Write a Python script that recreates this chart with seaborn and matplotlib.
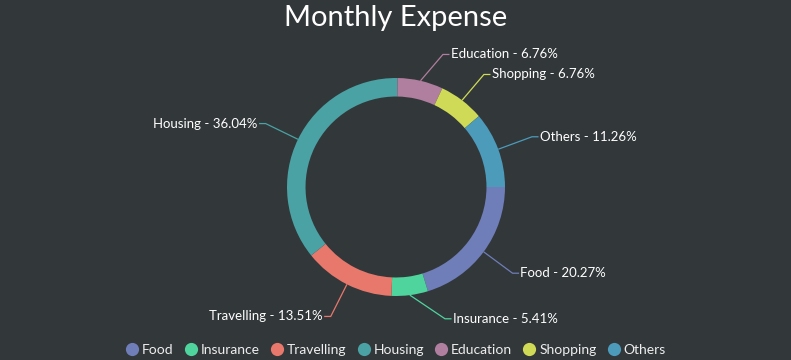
import matplotlib
matplotlib.use("Agg")
import matplotlib.pyplot as plt
import seaborn as sns
from matplotlib.lines import Line2D
import numpy as np

categories = ["Food", "Insurance", "Travelling", "Housing", "Education", "Shopping", "Others"]
values = [45, 12, 30, 80, 15, 15, 25]
title = "Monthly Expense"

colors = ["#6F7DB8", "#4FD49E", "#E9786C", "#4AA2A4", "#B07E9E", "#CFDB57", "#4C9BBA"]
bg = "#32373A"

sns.set_theme(style="dark")
plt.rcParams["font.family"] = ["Lato", "DejaVu Sans"]

W, H = 791, 360
cx, cy, R = 396, 187, 109
fig = plt.figure(figsize=(W / 100, H / 100), dpi=100, facecolor=bg)
ax = fig.add_axes([0, 0, 1, 1])
ax.set_facecolor(bg)

pal = sns.color_palette(colors)
wedges, _ = ax.pie(values, colors=pal, radius=1.0, startangle=0, counterclock=False,
                   wedgeprops=dict(width=0.17, linewidth=0))

ax.set_xlim(-cx / R, (W - cx) / R)
ax.set_ylim(-(H - cy) / R, cy / R)
ax.set_aspect("equal")
ax.axis("off")

total = sum(values)
# label layout: elbow (angle deg, radius) overrides to avoid collisions
elbow_adj = {"Insurance": (-69.6, 1.29), "Education": (70.5, 1.29), "Shopping": (52, 1.31)}
elbow_r = 1.33
for w, cat, v, col in zip(wedges, categories, values, pal):
    mid = np.deg2rad((w.theta1 + w.theta2) / 2)
    x0, y0 = np.cos(mid), np.sin(mid)
    a_deg, r = elbow_adj.get(cat, (np.rad2deg(mid), elbow_r))
    ea = np.deg2rad(a_deg)
    ex, ey = r * np.cos(ea), r * np.sin(ea)
    side = 1 if ex >= 0 else -1
    hx = ex + side * 0.06
    ax.plot([x0, ex, hx], [y0, ey, ey], color=col, lw=0.9, solid_capstyle="butt")
    pct = 100 * v / total
    ax.text(hx + side * 0.012, ey, f"{cat} - {pct:.2f}%", color="white", fontsize=9.5,
            ha="left" if side > 0 else "right", va="center")

fig.text(0.5, 1 - 18 / H, title, color="white", fontsize=21, ha="center", va="center")

handles = [Line2D([0], [0], marker="o", linestyle="", markersize=9.5, markerfacecolor=c,
                  markeredgewidth=0) for c in pal]
leg = fig.legend(handles, categories, loc="center", bbox_to_anchor=(0.5, 1 - 350 / H),
                 ncol=7, frameon=False, fontsize=10, handletextpad=0.2,
                 columnspacing=0.75, handlelength=1.0)
for t in leg.get_texts():
    t.set_color("#EEEEEE")

fig.savefig("out.png", dpi=100, facecolor=bg)
